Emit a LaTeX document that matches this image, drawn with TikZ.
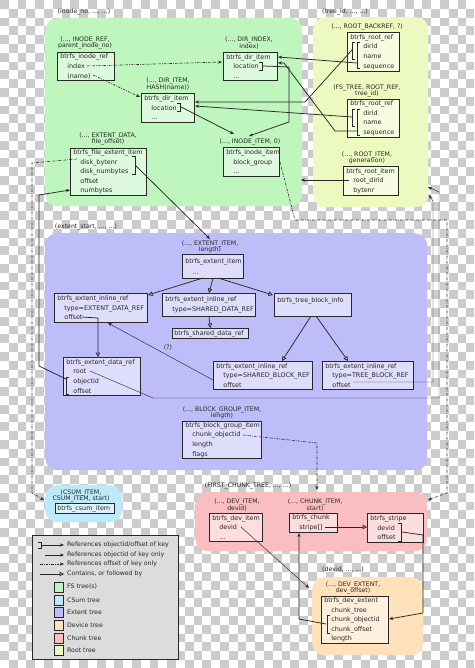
\documentclass[tikz,border=0pt]{standalone}
\usepackage{fontspec}
\setmainfont{DejaVu Sans}
\usetikzlibrary{arrows.meta,calc}
\definecolor{gfill}{RGB}{190,246,190}
\definecolor{yfill}{RGB}{236,250,192}
\definecolor{bfill}{RGB}{189,189,250}
\definecolor{cfill}{RGB}{188,234,250}
\definecolor{pfill}{RGB}{250,190,192}
\definecolor{ofill}{RGB}{255,226,188}
\definecolor{lgray}{RGB}{220,220,220}
\definecolor{ink}{RGB}{40,40,40}
\definecolor{chk}{RGB}{204,204,204}
\newcommand{\bxf}{\fontsize{6.4}{9.6}\selectfont}
\newcommand{\cpf}{\fontsize{6.2}{6.5}\selectfont}
\newcommand{\ind}{\hspace*{7pt}}
\newcommand{\indd}{\hspace*{13pt}}
\tikzset{
 fb/.style={draw=ink, line width=0.8pt, fill=white, fill opacity=0.5, text opacity=1, anchor=north west, inner xsep=3pt, inner ysep=1pt, align=left, font=\bxf, text=ink},
 captxt/.style={font=\cpf, align=center, inner sep=0pt, text=ink},
 rlab/.style={font=\cpf, inner sep=0pt, text=ink},
 region/.style={rounded corners=12pt, anchor=north west, inner sep=0pt, draw=none},
 refoo/.style={draw=ink, line width=0.75pt, -{Stealth[length=4pt,width=3.2pt]}},
 refo/.style={draw=ink, line width=0.45pt, -{Stealth[length=4pt,width=3.2pt]}},
 refoff/.style={draw=ink, line width=0.6pt, dash pattern=on 2.5pt off 1.2pt on 0.6pt off 1.2pt, -{Stealth[length=4pt,width=3.2pt]}},
 cont/.style={draw=ink, line width=0.75pt, -{Triangle[open,length=4.5pt,width=4.5pt]}},
 brk/.style={draw=ink, line width=0.7pt},
 swatch/.style={draw=ink, line width=0.6pt, minimum width=9pt, minimum height=10pt, inner sep=0pt},
 legtxt/.style={font=\cpf, anchor=west, inner sep=0pt, text=ink},
}
\begin{document}
\begin{tikzpicture}[x=1pt,y=-1pt]
\useasboundingbox (0,0) rectangle (474,668);
% transparent-background checkerboard
\begin{scope}
\clip (0,0) rectangle (474,668);
\fill[white] (0,0) rectangle (474,668);
\foreach \i in {0,...,54}{
  \pgfmathtruncatemacro{\off}{mod(\i,2)}
  \foreach \j in {0,...,38}{
    \fill[chk] ({\i*8.8},{(2*\j+\off)*8.8}) rectangle ++(8.8,8.8);
  }
}
\end{scope}
% tree regions
\node[region, fill=gfill, minimum width=257pt, minimum height=188pt] (fs) at (45,18) {};
\node[region, fill=yfill, minimum width=115pt, minimum height=190pt] (roott) at (313,17) {};
\node[region, fill=bfill, minimum width=382pt, minimum height=237pt] (extt) at (45,233) {};
\node[region, fill=cfill, minimum width=77pt, minimum height=37pt] (csumt) at (45,485) {};
\node[region, fill=pfill, minimum width=232pt, minimum height=59pt] (chunkt) at (195,492) {};
\node[region, fill=ofill, minimum width=111pt, minimum height=78pt] (devt) at (312,577) {};
% region labels
\node[rlab] (lfs) at (84,12) {(inode\_no, ..., ...)};
\node[rlab] (lroot) at (345,12) {(tree\_id, ..., ...)};
\node[rlab] (lext) at (86,227) {(extent\_start, ..., ...)};
\node[rlab] (lchunk) at (248,486) {(FIRST\_CHUNK\_TREE, ..., ...)};
\node[rlab] (ldev) at (343,570) {(devid, ..., ...)};
% captions
\node[captxt] (c1) at (85,43) {(..., INODE\_REF,\\parent\_inode\_no)};
\node[captxt] (c2) at (249,43) {(..., DIR\_INDEX,\\index)};
\node[captxt] (c3) at (168,84) {(..., DIR\_ITEM,\\HASH(name))};
\node[captxt] (c4) at (108,139) {(..., EXTENT\_DATA,\\file\_offset)};
\node[captxt] (c5) at (250,142) {(..., INODE\_ITEM, 0)};
\node[captxt] (c6) at (367,27) {(..., ROOT\_BACKREF, ?)};
\node[captxt] (c7) at (367,91) {(FS\_TREE, ROOT\_REF,\\tree\_id)};
\node[captxt] (c8) at (367,158) {(..., ROOT\_ITEM,\\generation)};
\node[captxt] (c9) at (210,247) {(..., EXTENT\_ITEM,\\length)};
\node[captxt] (c10) at (222,413) {(..., BLOCK\_GROUP\_ITEM,\\length)};
\node[captxt] (c11) at (81,496) {(CSUM\_ITEM,\\CSUM\_ITEM, start)};
\node[captxt] (c12) at (237,505) {(..., DEV\_ITEM,\\devid)};
\node[captxt] (c13) at (315,505) {(..., CHUNK\_ITEM,\\start)};
\node[captxt] (c14) at (353,588) {(..., DEV\_EXTENT,\\dev\_offset)};
% item boxes
\node[fb, text width=51pt, minimum height=28pt] (inoderef) at (57,52) {btrfs\_inode\_ref\\\ind index\\\ind (name)};
\node[fb, text width=48pt, minimum height=28pt] (dirindex) at (223,52) {btrfs\_dir\_item\\\ind location\\\ind ...};
\node[fb, text width=47pt, minimum height=29pt] (diritem) at (141,93) {btrfs\_dir\_item\\\ind location\\\ind ...};
\node[fb, text width=70pt, minimum height=47pt] (fileext) at (70,148) {btrfs\_file\_extent\_item\\\ind disk\_bytenr\\\ind disk\_numbytes\\\ind offset\\\ind numbytes};
\node[fb, text width=50pt, minimum height=29pt] (inodeitem) at (223,147) {btrfs\_inode\_item\\\ind block\_group\\\ind ...};
\node[fb, text width=46pt, minimum height=39pt] (rootbackref) at (347,32) {btrfs\_root\_ref\\\indd dirid\\\indd name\\\indd sequence};
\node[fb, text width=46pt, minimum height=38pt] (rootref) at (347,99) {btrfs\_root\_ref\\\indd dirid\\\indd name\\\indd sequence};
\node[fb, text width=49pt, minimum height=29pt] (rootitem) at (343,166) {btrfs\_root\_item\\\ind root\_dirid\\\ind bytenr};
\node[fb, text width=55pt, minimum height=24pt] (extitem) at (182,254) {btrfs\_extent\_item\\[2pt]\ind ...};
\node[fb, text width=87pt, minimum height=29pt] (inl1) at (54,293) {btrfs\_extent\_inline\_ref\\\ind type=EXTENT\_DATA\_REF\\\ind offset};
\node[fb, text width=87pt, minimum height=23pt] (inl2) at (162,293) {btrfs\_extent\_inline\_ref\\\ind type=SHARED\_DATA\_REF};
\node[fb, text width=71pt, minimum height=23pt] (tbinfo) at (274,293) {btrfs\_tree\_block\_info\\\mbox{}};
\node[fb, text width=72pt, minimum height=10pt, inner xsep=2pt] (shdref) at (172,328) {btrfs\_shared\_data\_ref};
\node[fb, text width=71pt, minimum height=38pt] (edref) at (63,357) {btrfs\_extent\_data\_ref\\\ind root\\\ind objectid\\\ind offset};
\node[fb, text width=93pt, minimum height=28pt] (inl3) at (213,361) {btrfs\_extent\_inline\_ref\\\ind type=SHARED\_BLOCK\_REF\\\ind offset};
\node[fb, text width=85pt, minimum height=28pt] (inl4) at (322,361) {btrfs\_extent\_inline\_ref\\\ind type=TREE\_BLOCK\_REF\\\ind offset};
\node[fb, text width=73pt, minimum height=37pt] (bgitem) at (182,421) {btrfs\_block\_group\_item\\\ind chunk\_objectid\\\ind length\\\ind flags};
\node[fb, text width=55pt, minimum height=10pt, inner xsep=2pt] (csumitem) at (55,503) {btrfs\_csum\_item};
\node[fb, text width=47pt, minimum height=28pt] (devitem) at (209,513) {btrfs\_dev\_item\\\ind devid\\\ind ...};
\node[fb, text width=42pt, minimum height=19pt] (chunk) at (289,513) {btrfs\_chunk\\\ind stripe[]};
\node[fb, text width=50pt, minimum height=29pt] (stripe) at (367,513) {btrfs\_stripe\\\ind devid\\\ind offset};
\node[fb, text width=61pt, minimum height=47pt] (devext) at (321,596) {btrfs\_dev\_extent\\\ind chunk\_tree\\\ind chunk\_objectid\\\ind chunk\_offset\\\ind length};
% key brackets
\draw[brk] (259,62) -- (262,62) -- (262,70) -- (259,70);
\draw[brk] (177,103) -- (180,103) -- (180,111) -- (177,111);
\draw[brk] (132,156) -- (135,156) -- (135,174) -- (132,174);
\draw[brk] (355,42) -- (352,42) -- (352,59) -- (355,59);
\draw[brk] (360,42) -- (357,42) -- (357,68) -- (360,68);
\draw[brk] (355,109) -- (352,109) -- (352,126) -- (355,126);
\draw[brk] (360,109) -- (357,109) -- (357,135) -- (360,135);
\draw[brk] (69,377) -- (66,377) -- (66,394) -- (69,394);
\draw[brk] (398,523) -- (401,523) -- (401,541) -- (398,541);
\draw[brk] (330,615) -- (327,615) -- (327,633) -- (330,633);
% connector end points
\coordinate (idx) at (87,66);      \coordinate (idxE) at (222,62);
\coordinate (nam) at (93,75);      \coordinate (namE) at (140,97);
\coordinate (rbo) at (352,50);     \coordinate (rboM) at (305,102);  \coordinate (rboE) at (195,102);
\coordinate (rro) at (352,117);    \coordinate (rroE) at (195,106);
\coordinate (rbi) at (357,63);     \coordinate (rbiE) at (278,57);
\coordinate (rri) at (357,131);    \coordinate (rriA) at (335,131);  \coordinate (rriB) at (284,63); \coordinate (rriE) at (278,63);
\coordinate (loc1) at (263,66);    \coordinate (loc1A) at (289,67);  \coordinate (loc1B) at (289,122); \coordinate (loc1E) at (249,136);
\coordinate (loc2) at (181,107);   \coordinate (loc2E) at (234,134);
\coordinate (bg) at (280,162);     \coordinate (bgA) at (295,220);   \coordinate (bgB) at (447,220); \coordinate (bgC) at (447,493); \coordinate (bgE) at (428,500);
\coordinate (rd) at (349,180);     \coordinate (rdE) at (301,180);
\coordinate (db) at (77,159);      \coordinate (dbA) at (32,163);    \coordinate (dbB) at (32,493); \coordinate (dbE) at (44,500);
\coordinate (dn) at (136,166);     \coordinate (dnE) at (210,239);
\coordinate (edr) at (66,379);     \coordinate (edrA) at (39,366);   \coordinate (edrB) at (39,195); \coordinate (edrE) at (70,190);
\coordinate (of1) at (82,317);     \coordinate (of1A) at (98,318);   \coordinate (of1E) at (98,357);
\coordinate (sbo) at (213,380);    \coordinate (sboE) at (108,323);
\coordinate (rt) at (90,371);      \coordinate (rtA) at (153,398);   \coordinate (rtB) at (439,398); \coordinate (rtC) at (439,192); \coordinate (rtE) at (428,187);
\coordinate (tbo) at (353,382);    \coordinate (tboA) at (433,382);  \coordinate (tboB) at (433,201); \coordinate (tboE) at (429,195);
\coordinate (co) at (243,435);     \coordinate (coA) at (317,443);   \coordinate (coE) at (317,490);
\coordinate (dv) at (241,527);     \coordinate (dvE) at (309,588);
\coordinate (sp) at (325,527);     \coordinate (spE) at (367,527);
\coordinate (st) at (402,532);     \coordinate (stA) at (423,535);   \coordinate (stB) at (423,613); \coordinate (stE) at (389,619);
\coordinate (de) at (326,624);     \coordinate (deA) at (299,619);   \coordinate (deE) at (299,533);
% references
\draw[refoff] (idx) -- (idxE);
\draw[refoff] (nam) -- (namE);
\draw[refoo] (rbo) -- (rboM) -- (rboE);
\draw[refoo] (rro) -- (rroE);
\draw[refoo] (rbi) -- (rbiE);
\draw[refoo] (rri) -- (rriA) -- (rriB) -- (rriE);
\draw[refoo] (loc1) -- (loc1A) -- (loc1B) -- (loc1E);
\draw[refoo] (loc2) -- (loc2E);
\draw[refoff] (bg) -- (bgA) -- (bgB) -- (bgC) -- (bgE);
\draw[refo] (rd) -- (rdE);
\draw[refoff] (db) -- (dbA) -- (dbB) -- (dbE);
\draw[refoo] (dn) -- (dnE);
\draw[refoo] (edr) -- (edrA) -- (edrB) -- (edrE);
\draw[refo] (sbo) -- (sboE);
\node[rlab] (qlab) at (168,348) {(?)};
\draw[refo] (rt) -- (rtA) -- (rtB) -- (rtC) -- (rtE);
\draw[refo] (tbo) -- (tboA) -- (tboB) -- (tboE);
\draw[refoff] (co) -- (coA) -- (coE);
\draw[refo] (dv) -- (dvE);
\draw[refoo] (st) -- (stA) -- (stB) -- (stE);
\draw[refoo] (de) -- (deA) -- (deE);
% contains
\coordinate (x1) at (203,278); \coordinate (x1E) at (148,295);
\coordinate (x3) at (218,278); \coordinate (x3E) at (273,295);
\coordinate (tb1) at (311,316); \coordinate (tb1E) at (282,361);
\coordinate (tb2) at (316,316); \coordinate (tb2E) at (348,361);
\draw[cont] (of1) -- (of1A) -- (of1E);
\draw[cont] (x1) -- (x1E);
\draw[cont] (extitem.south) -- (inl2.north);
\draw[cont] (x3) -- (x3E);
\draw[cont] (inl2.south) -- (shdref.north);
\draw[cont] (tb1) -- (tb1E);
\draw[cont] (tb2) -- (tb2E);
\draw[cont] (sp) -- (spE);
% legend
\node[draw=ink, line width=0.8pt, fill=lgray, anchor=north west, minimum width=146pt, minimum height=124pt, inner sep=0pt] (legend) at (32,535) {};
\draw[brk] (38,542) -- (41,542) -- (41,548) -- (38,548);
\coordinate (lg1) at (41,545); \coordinate (lg1E) at (64,545);
\coordinate (lg2) at (45,555); \coordinate (lg2E) at (64,555);
\coordinate (lg3) at (40,564); \coordinate (lg3E) at (64,564);
\coordinate (lg4) at (40,574); \coordinate (lg4E) at (64,574);
\draw[refoo] (lg1) -- (lg1E);
\draw[refo] (lg2) -- (lg2E);
\draw[refoff] (lg3) -- (lg3E);
\draw[cont] (lg4) -- (lg4E);
\node[legtxt] (lt1) at (67,545) {References objectid/offset of key};
\node[legtxt] (lt2) at (67,555) {References objectid of key only};
\node[legtxt] (lt3) at (67,564) {References offset of key only};
\node[legtxt] (lt4) at (67,574) {Contains, or followed by};
\node[swatch, fill=gfill] (s1) at (58.5,587) {};
\node[swatch, fill=cfill] (s2) at (58.5,600) {};
\node[swatch, fill=bfill] (s3) at (58.5,612.5) {};
\node[swatch, fill=ofill] (s4) at (58.5,625) {};
\node[swatch, fill=pfill] (s5) at (58.5,638) {};
\node[swatch, fill=yfill] (s6) at (58.5,650.5) {};
\node[legtxt] (st1) at (67,587) {FS tree(s)};
\node[legtxt] (st2) at (67,600) {CSum tree};
\node[legtxt] (st3) at (67,612.5) {Extent tree};
\node[legtxt] (st4) at (67,625) {Device tree};
\node[legtxt] (st5) at (67,638) {Chunk tree};
\node[legtxt] (st6) at (67,650.5) {Root tree};
\end{tikzpicture}
\end{document}
